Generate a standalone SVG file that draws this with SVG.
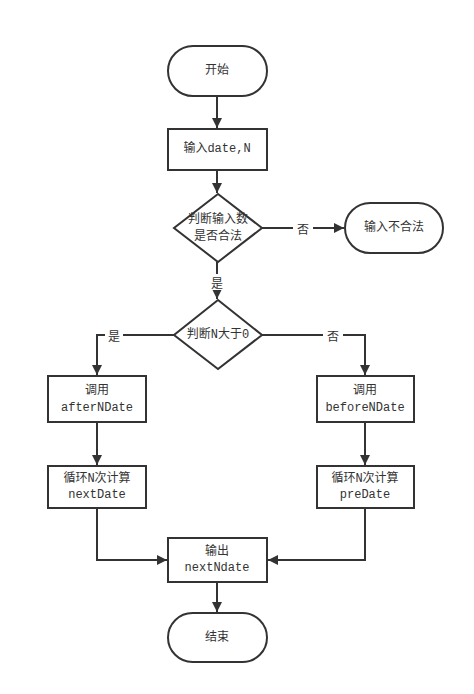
<svg xmlns="http://www.w3.org/2000/svg" width="474" height="694" viewBox="0 0 474 694">
<style>
.n{fill:#fff;stroke:#333;stroke-width:2}
.t{font-family:"Liberation Mono","Noto Sans CJK SC",monospace;font-size:12px;fill:#333;text-anchor:middle;dominant-baseline:central}
.c{fill:none;stroke:#333;stroke-width:2}
.l{font-family:"Noto Sans CJK SC",sans-serif;font-size:12px;fill:#333;text-anchor:middle;dominant-baseline:central}
</style>
<defs>
<marker id="a" viewBox="0 0 10 10" refX="10" refY="5" markerWidth="5" markerHeight="5" markerUnits="strokeWidth" orient="auto">
<path d="M0,0L10,5L0,10z" fill="#333"/>
</marker>
</defs>
<rect width="474" height="694" fill="#fff"/>
<g id="connectors">
<path class="c" d="M217,96V128" marker-end="url(#a)"/>
<path class="c" d="M217,170V193" marker-end="url(#a)"/>
<path class="c" d="M262,228H344" marker-end="url(#a)"/>
<path class="c" d="M217,262V299" marker-end="url(#a)"/>
<path class="c" d="M174,335H97V375" marker-end="url(#a)"/>
<path class="c" d="M262,335H365V375" marker-end="url(#a)"/>
<path class="c" d="M97,422V465" marker-end="url(#a)"/>
<path class="c" d="M365,422V465" marker-end="url(#a)"/>
<path class="c" d="M97,508V560H167" marker-end="url(#a)"/>
<path class="c" d="M365,508V560H268" marker-end="url(#a)"/>
<path class="c" d="M217,582V612" marker-end="url(#a)"/>
<rect x="293" y="220" width="20" height="16" fill="#fff"/>
<text class="l" x="303" y="228">否</text>
<rect x="208" y="274" width="18" height="16" fill="#fff"/>
<text class="l" x="217" y="282">是</text>
<rect x="105" y="327" width="18" height="16" fill="#fff"/>
<text class="l" x="114" y="335">是</text>
<rect x="323" y="327" width="20" height="16" fill="#fff"/>
<text class="l" x="333" y="335">否</text>
</g>
<g id="start"><rect class="n" x="168" y="46" width="99" height="50" rx="25"/><text class="t" x="217" y="71">开始</text></g>
<g id="input"><rect class="n" x="168" y="129" width="99" height="41"/><text class="t" x="217" y="149">输入date,N</text></g>
<g id="check"><path class="n" d="M218,194L262,228L218,262L174,228Z"/><text class="t" x="218" y="220">判断输入数</text><text class="t" x="218" y="237">是否合法</text></g>
<g id="invalid"><rect class="n" x="345" y="203" width="98" height="50" rx="25"/><text class="t" x="394" y="228">输入不合法</text></g>
<g id="checkN"><path class="n" d="M218,300L262,335L218,369L174,335Z"/><text class="t" x="218" y="335">判断N大于0</text></g>
<g id="after"><rect class="n" x="48" y="376" width="98" height="46"/><text class="t" x="97" y="391">调用</text><text class="t" x="97" y="408">afterNDate</text></g>
<g id="before"><rect class="n" x="317" y="376" width="97" height="46"/><text class="t" x="365" y="391">调用</text><text class="t" x="365" y="408">beforeNDate</text></g>
<g id="loopNext"><rect class="n" x="48" y="466" width="98" height="42"/><text class="t" x="97" y="479">循环N次计算</text><text class="t" x="97" y="495">nextDate</text></g>
<g id="loopPre"><rect class="n" x="317" y="466" width="97" height="42"/><text class="t" x="365" y="479">循环N次计算</text><text class="t" x="365" y="495">preDate</text></g>
<g id="output"><rect class="n" x="168" y="538" width="99" height="44"/><text class="t" x="217" y="552">输出</text><text class="t" x="217" y="568">nextNdate</text></g>
<g id="end"><rect class="n" x="168" y="613" width="99" height="49" rx="24.5"/><text class="t" x="217" y="638">结束</text></g>
</svg>
